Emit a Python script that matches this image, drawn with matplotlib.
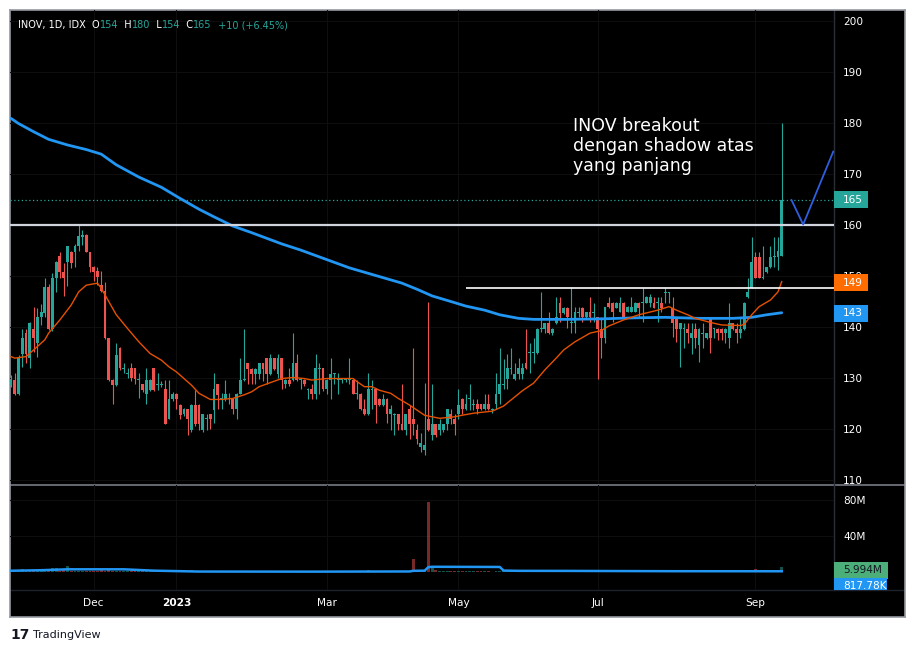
import matplotlib
matplotlib.use('Agg')
import matplotlib.pyplot as plt
from matplotlib.patches import Rectangle
import numpy as np

W, H = 916, 653

# daily OHLC, INOV (IDX)
opens = [128.6, 129.7, 126.8, 134.8, 138.8, 133.9, 139.7, 136.8, 142.0, 142.8,
         147.9, 139.7, 149.7, 153.9, 150.7, 152.7, 154.8, 154.8, 155.8, 157.7,
         158.0, 154.8, 151.7, 150.9, 148.2, 147.0, 137.8, 129.7, 128.6, 135.8,
         131.8, 130.8, 131.9, 131.9, 129.6, 128.8, 126.8, 127.7, 131.9, 128.7,
         128.7, 127.8, 121.9, 125.8, 126.8, 124.8, 122.9, 123.9, 119.9, 124.8,
         124.8, 119.9, 121.9, 122.9, 123.7, 128.8, 125.8, 125.8, 125.8, 125.9,
         123.9, 126.9, 129.6, 132.9, 131.8, 130.8, 130.8, 132.9, 133.9, 130.8,
         133.9, 130.8, 133.9, 128.8, 129.7, 129.7, 132.9, 129.6, 129.7, 127.7,
         127.8, 126.8, 131.8, 131.9, 127.8, 129.7, 130.7, 129.6, 129.6, 129.6,
         129.6, 129.7, 126.8, 126.9, 123.9, 122.9, 127.7, 127.8, 125.9, 124.8,
         125.9, 122.9, 122.8, 122.9, 120.9, 119.9, 123.9, 121.9, 119.9, 116.5,
         115.9, 121.9, 118.8, 120.9, 119.8, 119.8, 120.9, 122.9, 121.9, 122.9,
         125.9, 123.9, 125.8, 124.8, 124.9, 124.9, 123.9, 124.9, 123.8, 124.9,
         126.8, 128.7, 129.8, 131.8, 129.8, 130.8, 130.8, 132.9, 134.9, 134.9,
         134.9, 139.6, 139.7, 140.7, 138.8, 140.7, 144.8, 142.8, 143.8, 140.8,
         140.7, 142.8, 143.8, 141.9, 142.9, 142.8, 141.9, 139.7, 137.8, 144.8,
         144.8, 143.8, 143.0, 144.8, 143.0, 143.0, 143.0, 144.8, 144.7, 144.8,
         144.8, 144.8, 144.7, 144.8, 146.7, 146.7, 143.8, 141.8, 139.7, 139.6,
         139.7, 137.8, 139.7, 136.5, 138.7, 137.8, 141.6, 139.6, 139.7, 139.7,
         138.8, 137.8, 140.7, 139.7, 138.8, 139.7, 145.8, 147.7, 153.8, 153.8,
         149.6, 150.7, 151.7, 153.7, 153.8, 154.0]
highs = [130.5, 130.9, 134.5, 139.7, 139.7, 141.0, 143.9, 143.7, 144.5, 149.7,
         148.5, 150.5, 153.0, 154.8, 152.6, 155.8, 155.0, 156.3, 160.0, 159.0,
         158.3, 154.8, 152.0, 151.7, 150.9, 148.9, 137.9, 129.8, 136.8, 136.0,
         132.9, 132.0, 132.9, 132.0, 130.9, 128.9, 131.9, 129.8, 132.0, 130.9,
         129.5, 129.7, 129.7, 127.2, 127.0, 125.0, 124.2, 124.0, 124.9, 127.7,
         124.9, 123.0, 122.9, 123.0, 130.9, 128.9, 127.0, 129.7, 127.0, 126.0,
         127.0, 133.9, 139.7, 133.0, 131.9, 131.9, 133.0, 133.0, 134.0, 134.8,
         134.0, 134.8, 134.0, 129.8, 131.9, 138.8, 134.8, 130.0, 129.9, 128.0,
         128.8, 134.8, 132.9, 132.0, 129.8, 133.9, 131.0, 130.9, 130.0, 130.0,
         133.9, 129.8, 129.7, 127.0, 125.9, 130.9, 129.7, 128.0, 126.0, 126.9,
         126.0, 124.8, 123.1, 123.0, 128.8, 123.0, 124.8, 135.8, 120.9, 119.3,
         129.0, 145.0, 128.8, 121.0, 121.9, 121.0, 123.9, 123.9, 122.9, 127.8,
         126.0, 126.8, 128.8, 125.8, 125.9, 125.0, 126.8, 126.8, 124.1, 130.9,
         135.8, 133.8, 134.8, 135.8, 132.9, 134.0, 132.9, 139.7, 136.8, 137.8,
         139.8, 146.8, 140.8, 142.9, 139.8, 145.9, 145.8, 144.0, 143.9, 147.8,
         143.9, 143.9, 143.9, 143.0, 145.8, 144.8, 142.0, 141.9, 144.0, 145.8,
         145.0, 145.0, 145.8, 144.9, 144.1, 145.8, 145.0, 144.9, 147.7, 146.0,
         146.5, 145.8, 145.8, 145.8, 147.7, 146.9, 145.8, 141.9, 140.8, 140.7,
         140.7, 140.7, 140.7, 139.8, 140.7, 138.9, 141.7, 139.9, 139.8, 139.8,
         139.8, 144.8, 140.8, 140.7, 141.8, 144.9, 149.7, 157.7, 154.8, 154.8,
         155.8, 151.8, 155.8, 157.7, 157.7, 180.0]
lows = [128.2, 126.6, 126.6, 132.2, 132.9, 131.9, 135.2, 134.2, 140.3, 142.0,
        139.5, 139.2, 146.9, 149.7, 146.0, 148.0, 151.5, 151.8, 155.0, 156.0,
        154.8, 150.8, 149.0, 148.3, 146.9, 137.6, 129.5, 125.0, 128.4, 131.5,
        131.0, 130.0, 129.5, 128.8, 126.0, 127.3, 125.0, 127.5, 127.5, 127.7,
        128.2, 120.9, 121.9, 125.5, 124.0, 122.0, 122.5, 118.8, 119.5, 120.5,
        119.8, 119.5, 119.8, 120.0, 121.1, 124.0, 124.0, 125.5, 125.0, 123.0,
        122.0, 126.8, 129.5, 128.8, 128.8, 128.9, 129.9, 129.5, 128.9, 130.5,
        131.5, 130.0, 127.8, 128.0, 128.5, 129.5, 129.5, 127.8, 128.5, 125.9,
        125.9, 125.9, 126.9, 127.5, 126.9, 125.9, 128.8, 126.9, 129.0, 129.2,
        128.8, 126.8, 125.9, 123.8, 122.8, 122.8, 123.9, 121.1, 124.6, 124.6,
        121.1, 119.9, 118.9, 119.9, 119.8, 118.9, 118.0, 118.9, 117.0, 115.5,
        114.9, 119.7, 117.8, 118.5, 118.8, 119.5, 119.8, 120.9, 118.9, 121.9,
        122.9, 123.8, 123.8, 123.7, 123.0, 123.8, 123.8, 123.8, 123.2, 123.9,
        124.9, 127.9, 127.9, 130.8, 129.6, 129.8, 129.8, 131.7, 130.9, 132.9,
        134.8, 139.0, 138.8, 138.7, 138.5, 140.5, 140.9, 142.5, 139.9, 138.9,
        138.9, 142.0, 140.9, 141.7, 140.9, 140.9, 129.8, 133.9, 136.8, 143.8,
        140.9, 143.7, 142.9, 141.5, 142.9, 142.9, 142.9, 142.0, 141.0, 144.7,
        144.0, 143.7, 140.9, 142.9, 144.8, 144.8, 138.1, 137.0, 132.1, 135.8,
        136.8, 134.8, 135.8, 133.2, 135.8, 137.7, 135.0, 137.8, 137.5, 137.5,
        136.8, 135.8, 139.5, 136.8, 137.8, 139.5, 145.7, 147.6, 149.6, 149.6,
        149.5, 150.6, 151.6, 151.7, 151.2, 154.0]
closes = [129.7, 126.8, 133.9, 137.8, 134.8, 140.7, 137.8, 142.0, 142.9, 147.9,
          139.7, 149.7, 152.8, 150.7, 149.7, 155.8, 152.5, 155.8, 157.8, 158.0,
          154.8, 151.7, 150.7, 149.8, 147.0, 137.8, 129.7, 128.6, 134.5, 131.9,
          132.0, 131.0, 130.0, 129.8, 129.8, 127.6, 129.7, 129.7, 127.7, 128.9,
          128.9, 120.9, 125.8, 126.8, 125.8, 122.8, 123.9, 121.9, 124.8, 120.9,
          120.9, 122.9, 122.1, 121.9, 127.8, 126.7, 126.0, 126.9, 126.0, 123.9,
          126.9, 129.7, 129.8, 131.8, 130.8, 131.8, 132.9, 131.8, 130.8, 133.9,
          131.8, 133.9, 129.7, 129.7, 128.8, 132.9, 129.7, 129.8, 128.8, 127.9,
          126.8, 131.9, 132.0, 127.8, 129.7, 130.8, 130.9, 129.8, 129.8, 129.8,
          129.8, 126.9, 127.0, 123.9, 122.9, 127.8, 127.9, 124.8, 124.8, 125.9,
          122.9, 123.9, 123.0, 120.9, 119.9, 122.9, 120.9, 120.9, 118.0, 117.2,
          116.9, 119.8, 120.9, 118.8, 120.9, 120.9, 123.9, 121.9, 120.9, 124.8,
          123.9, 124.9, 126.0, 125.0, 123.9, 123.9, 124.9, 123.9, 124.0, 126.8,
          128.8, 128.9, 131.9, 132.0, 130.8, 131.9, 131.9, 131.9, 135.1, 135.1,
          139.7, 139.8, 140.7, 138.8, 139.7, 141.9, 142.8, 143.8, 141.9, 141.0,
          142.9, 143.0, 141.9, 142.9, 141.9, 143.0, 139.7, 137.8, 143.9, 143.9,
          142.9, 144.8, 144.8, 141.7, 144.0, 144.0, 144.8, 143.8, 144.9, 145.8,
          145.8, 143.8, 144.9, 143.8, 146.9, 146.9, 140.7, 139.7, 140.7, 139.8,
          138.8, 138.8, 137.8, 139.7, 138.9, 138.8, 137.8, 139.8, 138.8, 138.8,
          139.7, 140.7, 139.7, 138.8, 139.7, 144.8, 146.8, 152.8, 149.7, 149.7,
          149.8, 151.7, 153.8, 153.9, 155.0, 165.0]
# volume in millions
volumes = [1.2, 0.8, 1.5, 3.0, 1.0, 1.1, 0.9, 1.3, 1.0, 1.2,
           1.4, 4.0, 4.2, 1.5, 3.2, 6.5, 1.2, 0.9, 1.0, 1.1,
           0.8, 1.6, 1.0, 0.9, 3.0, 1.0, 2.0, 1.2, 0.8, 0.9,
           1.0, 0.7, 3.0, 1.0, 0.8, 0.6, 0.9, 0.7, 0.8, 0.6,
           0.7, 0.5, 0.8, 2.0, 0.6, 0.5, 0.7, 0.6, 2.0, 0.5,
           0.6, 0.4, 0.5, 0.6, 0.4, 0.5, 0.7, 0.4, 0.5, 0.4,
           0.5, 0.6, 0.8, 1.0, 0.4, 0.5, 0.4, 0.6, 0.5, 0.4,
           0.5, 0.4, 0.6, 0.5, 0.4, 0.5, 0.7, 0.5, 0.4, 0.4,
           0.5, 0.4, 0.8, 0.5, 0.6, 0.4, 0.5, 0.4, 0.4, 0.3,
           0.4, 0.5, 0.6, 0.4, 0.7, 2.0, 0.6, 0.8, 0.7, 0.5,
           0.6, 0.7, 0.5, 0.6, 0.8, 0.9, 1.5, 15.0, 1.2, 1.0,
           1.5, 78.0, 6.5, 2.0, 1.5, 1.0, 0.9, 1.2, 0.8, 1.0,
           1.5, 1.0, 0.8, 1.0, 0.7, 0.6, 0.8, 0.7, 0.5, 0.6,
           1.5, 2.0, 1.2, 1.5, 1.0, 0.8, 0.9, 0.8, 1.2, 1.5,
           1.0, 2.2, 1.8, 1.0, 1.2, 0.8, 1.5, 1.6, 0.9, 1.0,
           1.4, 1.0, 0.8, 1.0, 0.7, 1.0, 0.8, 2.0, 1.6, 1.8,
           1.0, 0.9, 0.8, 1.0, 1.1, 0.7, 0.8, 0.9, 0.7, 0.9,
           0.8, 0.7, 0.8, 0.6, 0.9, 0.7, 0.6, 1.5, 1.0, 1.2,
           0.8, 0.7, 0.9, 0.8, 1.0, 0.7, 0.6, 1.0, 0.6, 0.7,
           0.6, 0.7, 0.9, 0.6, 0.7, 0.8, 2.0, 1.5, 3.0, 1.8,
           1.5, 1.0, 0.9, 1.2, 1.6, 5.994]

# moving averages (bar index, value)
ma20_idx = [0, 1, 4, 6, 9, 10, 13, 16, 18, 20, 23, 24, 26, 28, 31, 34, 37, 40, 42, 44,
            48, 50, 53, 56, 59, 62, 64, 66, 69, 72, 75, 78, 80, 84, 88, 91, 92, 94, 96, 98,
            101, 103, 106, 108, 110, 114, 118, 120, 123, 128, 131, 133, 136, 139, 142, 145,
            147, 150, 154, 157, 159, 163, 167, 172, 175, 177, 180, 182, 186, 189, 194, 195,
            197, 199, 202, 204, 205]
ma20_val = [134.2, 133.9, 134.2, 135.5, 137.5, 138.8, 141.4, 144.3, 146.9, 148.2, 148.6, 147.6,
            145.0, 142.4, 139.7, 137.1, 134.8, 133.5, 132.2, 131.2, 128.6, 127.0, 125.8, 125.8,
            126.0, 126.7, 127.3, 128.3, 129.1, 129.9, 130.1, 129.9, 129.6, 129.9, 129.9, 129.9,
            129.3, 128.3, 128.3, 127.6, 127.0, 126.0, 124.7, 123.7, 122.7, 122.1, 122.4, 122.7,
            123.1, 123.5, 124.5, 125.7, 127.5, 129.0, 131.6, 133.9, 135.5, 137.1, 138.8, 139.3,
            140.2, 141.4, 142.4, 143.3, 144.0, 143.3, 142.4, 141.7, 140.9, 140.4, 140.3, 140.5,
            142.4, 144.0, 145.3, 146.9, 148.9]
ma200_idx = [0, 2, 6, 10, 15, 20, 24, 28, 34, 40, 45, 50, 54, 59, 64, 68, 72, 77, 90, 104,
             108, 112, 117, 121, 126, 130, 135, 139, 148, 157, 166, 174, 183, 192, 197, 201, 205]
ma200_val = [180.9, 179.9, 178.3, 176.8, 175.7, 174.8, 173.9, 171.8, 169.4, 167.4, 165.2,
             163.1, 161.6, 159.8, 158.5, 157.4, 156.3, 155.1, 151.6, 148.6, 147.4, 146.1,
             145.0, 144.1, 143.3, 142.4, 141.7, 141.5, 141.5, 141.6, 141.8, 141.9, 141.7,
             141.7, 141.9, 142.4, 142.8]
vol_ma_idx = [0, 8, 15, 30, 38, 50, 80, 106, 107, 110, 111, 112, 130, 131, 135, 150, 175, 205]
vol_ma_val = [1.4, 2.0, 3.0, 3.0, 1.5, 0.5, 0.4, 0.6, 1.3, 1.5, 5.4, 5.8, 5.6, 1.6, 1.3, 1.2,
              0.9, 0.82]

month_idx = [22, 44, 84, 119, 156, 198]
month_lbl = ['Dec', '2023', 'Mar', 'May', 'Jul', 'Sep']
price_ticks = [110, 120, 130, 140, 150, 160, 170, 180, 190, 200]
vol_ticks = [40, 80]
vol_tick_lbl = ['40M', '80M']

resist_hi = 160
resist_lo = 147.6
resist_lo_start = 121
last_close = 165
ma20_last = 148.7
ma200_last = 142.7
# hand-drawn projection after the breakout
proj_x = [207.6, 210.7, 218.7]
proj_y = [164.9, 160.1, 174.4]

UP = '#26a69a'
DOWN = '#ef5350'
GREY = '#d1d4dc'
GRID = '#0e0e0e'


def fx(px):
    return px / W


def fy(py):
    return 1 - py / H


plt.rcParams['font.family'] = ['DejaVu Sans']
fig = plt.figure(figsize=(W / 100, H / 100), dpi=100, facecolor='white')

# black chart frame, drawn in pixel coordinates
bg = fig.add_axes([fx(10), fy(617), fx(905) - fx(10), fy(10) - fy(617)])
bg.set_facecolor('black')
bg.set_xlim(10, 905)
bg.set_ylim(617, 10)
bg.set_xticks([])
bg.set_yticks([])
for s in bg.spines.values():
    s.set_color('#9598a1')
    s.set_linewidth(1.2)
bg.plot([10, 905], [484.5, 484.5], color='#787b86', lw=1.2)
bg.plot([834, 834], [10, 590], color='#2a2e39', lw=1)
bg.plot([10, 905], [590, 590], color='#1e222d', lw=1)

n = len(closes)
x = np.arange(n)
o = np.array(opens)
c = np.array(closes)
up = c >= o
cols = np.where(up, UP, DOWN)

# price pane
ax = fig.add_axes([fx(10), fy(484), (834 - 10) / W, (484 - 10) / H])
ax.set_facecolor('none')
ax.set_xlim(-0.27, 218.9)
ax.set_ylim(109.22, 202.16)
for s in ax.spines.values():
    s.set_visible(False)
ax.yaxis.tick_right()
ax.set_yticks(price_ticks)
ax.tick_params(axis='y', length=0, pad=6.5, labelcolor='white', labelsize=7.6)
ax.set_xticks(month_idx)
ax.tick_params(axis='x', length=0, labelbottom=False)
ax.grid(color=GRID, lw=0.8)

ax.vlines(x, lows, highs, colors=cols, lw=0.8, zorder=3)
ax.bar(x, np.maximum(np.abs(c - o), 0.2), bottom=np.minimum(o, c), width=0.75,
       color=cols, lw=0, zorder=4)
ax.plot(ma200_idx, ma200_val, color='#2196f3', lw=2.0, zorder=5, solid_capstyle='round')
ax.plot(ma20_idx, ma20_val, color='#e65100', lw=1.0, zorder=5)

ax.axhline(resist_hi, color=GREY, lw=1.6, zorder=6)
ax.hlines(resist_lo, resist_lo_start, 218.9, color='white', lw=1.2, zorder=6)
ax.axhline(last_close, color=UP, lw=0.9, ls=(0, (1, 2)), zorder=2)
ax.plot(proj_x, proj_y, color='#2f5fe0', lw=1.3, zorder=6)

ax.text(149.5, 181.2, 'INOV breakout\ndengan shadow atas\nyang panjang', color='white',
        fontsize=12.5, va='top', ha='left', linespacing=1.15, zorder=7)

# price scale tags
pr = fig.add_axes([fx(834), fy(484), 71 / W, (484 - 10) / H])
pr.set_xlim(0, 71)
pr.set_ylim(ax.get_ylim())
pr.axis('off')
for val, txt, bgc in [(last_close, '165', UP), (ma20_last, '149', '#ff6d00'),
                      (ma200_last, '143', '#2196f3')]:
    pr.add_patch(Rectangle((0, val - 1.67), 34, 3.33, color=bgc, lw=0))
    pr.text(9, val, txt, color='white', fontsize=7.6, va='center', ha='left')

# volume pane
vax = fig.add_axes([fx(10), fy(590), (834 - 10) / W, (590 - 485) / H])
vax.set_facecolor('none')
vax.set_xlim(-0.27, 218.9)
vax.set_ylim(-20, 96.7)
for s in vax.spines.values():
    s.set_visible(False)
vax.bar(x, volumes, width=0.75, color=cols, alpha=0.5, lw=0, zorder=3)
vax.plot(vol_ma_idx, vol_ma_val, color='#2196f3', lw=1.8, zorder=4)
vax.yaxis.tick_right()
vax.set_yticks(vol_ticks, vol_tick_lbl)
vax.tick_params(axis='y', length=0, pad=6.5, labelcolor='white', labelsize=7.6)
vax.set_xticks(month_idx, month_lbl)
vax.tick_params(axis='x', length=0, pad=6, labelcolor='white', labelsize=7.6)
vax.get_xticklabels()[1].set_fontweight('bold')
vax.grid(color=GRID, lw=0.8)

vr = fig.add_axes([fx(834), fy(590), 71 / W, (590 - 485) / H])
vr.set_xlim(0, 71)
vr.set_ylim(vax.get_ylim())
vr.axis('off')
vr.add_patch(Rectangle((0, -7.5), 54, 18.9, color='#4caf7a', lw=0))
vr.text(9, 2.0, '5.994M', color='#131722', fontsize=7.6, va='center', ha='left')
vr.add_patch(Rectangle((0, -25.5), 53, 18.9, color='#2196f3', lw=0))
vr.text(9, -16.0, '817.78K', color='white', fontsize=7.6, va='center', ha='left')

# header legend
r = fig.canvas.get_renderer()
pieces = [('INOV, 1D, IDX  ', 'white'), ('O', 'white'), ('154', UP), ('  H', 'white'),
          ('180', UP), ('  L', 'white'), ('154', UP), ('  C', 'white'), ('165', UP),
          ('  +10 (+6.45%)', UP)]
px = 18
for txt, col in pieces:
    t = fig.text(fx(px), fy(25), txt, color=col, fontsize=7.0, va='center', ha='left')
    px = t.get_window_extent(renderer=r).x1

# footer logo
fig.text(fx(10), fy(635), '17', color='#131722', fontsize=10, fontweight='heavy',
         va='center', ha='left')
fig.text(fx(33), fy(635), 'TradingView', color='#131722', fontsize=8, va='center', ha='left')

fig.savefig('out.png', dpi=100, facecolor='white')
